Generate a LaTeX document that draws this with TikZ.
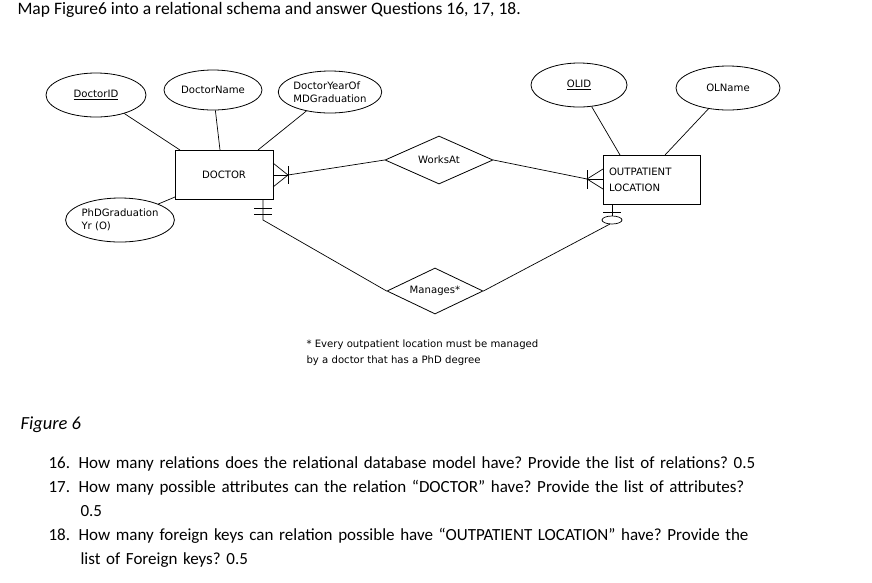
\documentclass[tikz,border=0pt]{standalone}
\usepackage{fontspec}
\setmainfont{Carlito}
\newfontfamily\diafont{DejaVu Sans}[Scale=0.92]
\usetikzlibrary{shapes.geometric}
\begin{document}
\frenchspacing
\begin{tikzpicture}[x=1pt,y=-1pt,
  attr/.style={draw,ellipse,line width=0.8pt,inner sep=0pt,font=\diafont\fontsize{11}{12.5}\selectfont},
  ent/.style={draw,rectangle,line width=0.8pt,font=\diafont\fontsize{11}{16}\selectfont,align=left},
  rel/.style={draw,diamond,aspect=2.2,line width=0.8pt,inner sep=0pt,font=\diafont\fontsize{11}{12}\selectfont},
  ln/.style={line width=0.7pt},
  qt/.style={font=\fontsize{17.5}{18}\selectfont,anchor=west}]
\useasboundingbox (0,0) rectangle (872,582);
\node[qt] (title) at (14,10) {Map Figure6 into a relational schema and answer Questions 16, 17, 18.};
% entities
\node[ent,minimum width=98,minimum height=49] (doc) at (224,175) {DOCTOR};
\node[ent,minimum width=97,minimum height=49,text width=85] (ol) at (651.5,180) {OUTPATIENT\\LOCATION};
% attributes
\node[attr,minimum width=100,minimum height=44] (did) at (96,95) {\underline{DoctorID}};
\node[attr,minimum width=98,minimum height=40] (dn) at (213,90) {DoctorName};
\node[attr,minimum width=96,minimum height=42,align=left] (dy) at (330,92) {DoctorYearOf\\MDGraduation};
\node[attr,minimum width=96,minimum height=44] (olid) at (579,85) {\underline{OLID}};
\node[attr,minimum width=104,minimum height=44] (oln) at (728,88) {OLName};
\node[attr,minimum width=96,minimum height=44,align=left] (phd) at (120,220) {PhDGraduation\\Yr (O)\hspace*{4em}};
\draw[ln] (did) -- (180,150);
\draw[ln] (dn) -- (220,150);
\draw[ln] (dy) -- (258,150);
\draw[ln] (phd) -- (175,197);
\draw[ln] (olid) -- (620,155);
\draw[ln] (oln) -- (665,155);
% relationships
\node[rel,minimum width=108,minimum height=48] (wa) at (439,160) {WorksAt};
\node[rel,minimum width=96,minimum height=46] (mg) at (435,291) {Manages*};
% WorksAt connectors
\coordinate (d1) at (288,175);
\draw[ln] (wa.west) -- (d1);
\draw[ln] (273,163) -- (d1) -- (273,187);
\draw[ln] (d1) -- (273,175);
\draw[ln] (288,166) -- (288,184);
\coordinate (o1) at (587,179);
\draw[ln] (wa.east) -- (o1);
\draw[ln] (603,169) -- (o1) -- (603,189);
\draw[ln] (o1) -- (603,179);
\draw[ln] (587,170) -- (587,189);
% Manages connectors
\coordinate (d2) at (263,220);
\draw[ln] (263,199) -- (d2) -- (mg.west);
\draw[ln] (254,208) -- (272,208);
\draw[ln] (254,214) -- (272,214);
\coordinate (o2) at (612,224);
\draw[ln] (612,204) -- (612,216);
\draw[ln] (603,212) -- (621,212);
\draw[ln] (612,220) ellipse (10 and 4);
\draw[ln] (610,224) -- (mg.east);
% note
\node[anchor=north west,align=left,font=\diafont\fontsize{11}{16}\selectfont] (note) at (303,336) {* Every outpatient location must be managed\\by a doctor that has a PhD degree};
\node[qt,font=\itshape\fontsize{18.5}{18}\selectfont] (fig) at (17,425) {Figure 6};
\node[qt,anchor=north west,align=left,text width=800,font=\fontsize{17}{24}\selectfont] (q) at (45,453) {16.\enspace How many relations does the relational database model have? Provide the list of relations? 0.5\\
17.\enspace How many possible attributes can the relation “DOCTOR” have? Provide the list of attributes?\\
\hspace*{32pt}0.5\\
18.\enspace How many foreign keys can relation possible have “OUTPATIENT LOCATION” have? Provide the\\
\hspace*{32pt}list of Foreign keys? 0.5};
\end{tikzpicture}
\end{document}
